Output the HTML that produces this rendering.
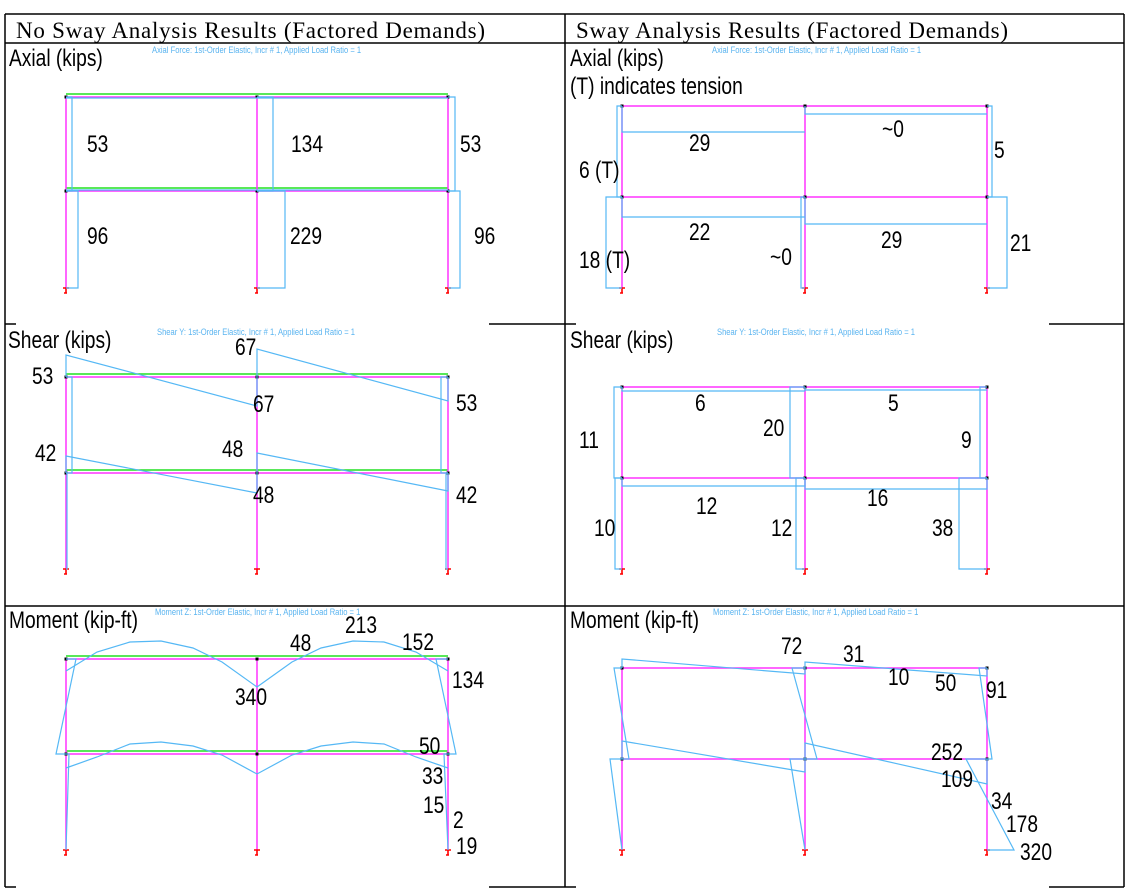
<!DOCTYPE html>
<html><head><meta charset="utf-8">
<style>
html,body{margin:0;padding:0;background:#fff;}
svg{display:block;}
.lbl{font-family:"Liberation Sans",sans-serif;font-size:24px;fill:#000;}
.ttl{font-family:"Liberation Sans",sans-serif;font-size:24px;fill:#000;}
.hdr{font-family:"Liberation Serif",serif;font-size:23px;fill:#000;}
.cap{font-family:"Liberation Sans",sans-serif;font-size:9.5px;fill:#5ab4f0;}
</style></head>
<body>
<svg id="chart" width="1144" height="892" viewBox="0 0 1144 892" xmlns="http://www.w3.org/2000/svg">
<g id="grid" stroke="#000" stroke-width="1.5" fill="none">
<line x1="5" y1="14" x2="1124" y2="14"/>
<line x1="5" y1="43" x2="1124" y2="43"/>
<line x1="5" y1="14" x2="5" y2="887"/>
<line x1="1124" y1="14" x2="1124" y2="887"/>
<line x1="565" y1="14" x2="565" y2="887"/>
<line x1="5" y1="324" x2="16" y2="324"/><line x1="489" y1="324" x2="565" y2="324"/>
<line x1="565" y1="324" x2="576" y2="324"/><line x1="1049" y1="324" x2="1124" y2="324"/>
<line x1="5" y1="606" x2="1124" y2="606"/>
<line x1="5" y1="887" x2="16" y2="887"/><line x1="489" y1="887" x2="576" y2="887"/><line x1="1049" y1="887" x2="1124" y2="887"/>
</g>
<text class="hdr" x="16" y="38" textLength="469">No Sway Analysis Results (Factored Demands)</text>
<text class="hdr" x="576" y="38" textLength="432">Sway Analysis Results (Factored Demands)</text>
<g id="panels"></g>
</svg>
<script>
const NS="http://www.w3.org/2000/svg";
const root=document.getElementById('panels');
const BLUE="#55b8f5";
// label data per panel
const axialNoSwayValues=["53","134","53","96","229","96"];
const axialSwayValues=["29","~0","5","6 (T)","22","29","21","18 (T)","~0"];
const shearNoSwayValues=["53","67","67","53","42","48","48","42"];
const shearSwayValues=["6","5","20","11","9","12","16","10","12","38"];
const momentNoSwayValues=["48","213","152","134","340","50","33","15","2","19"];
const momentSwayValues=["72","31","10","50","91","252","109","34","178","320"];

function el(tag,attrs,parent){const e=document.createElementNS(NS,tag);for(const k in attrs)e.setAttribute(k,attrs[k]);(parent||root).appendChild(e);return e;}
function txt(s,x,y,cls,name,parent){const t=el('text',{x:0,y:0,class:cls,transform:`translate(${x},${y}) scale(0.8,1)`},parent);


t.textContent=s;return t;}
function poly(pts,name,g){const p=el('polyline',{points:pts.map(a=>a.join(',')).join(' '),fill:'none',stroke:BLUE,'stroke-width':1.2},g);

}

function frame(g,cols,yt,ym,yb,green){
  if(green){[yt,ym].forEach(y=>{const l=el('line',{x1:cols[0],y1:y-3,x2:cols[2],y2:y-3,stroke:'#22e022','stroke-width':1.5},g);
  
  });}
  [yt,ym].forEach(y=>{const l=el('line',{x1:cols[0],y1:y,x2:cols[2],y2:y,stroke:'#ff33ff','stroke-width':1.5},g);
  
  });
  cols.forEach(x=>{const l=el('line',{x1:x,y1:yt,x2:x,y2:yb,stroke:'#ff33ff','stroke-width':1.5},g);
  
  
  [yt,ym].forEach(y=>{const d=el('rect',{x:x-1.5,y:y-1.5,width:3,height:3,fill:'#000'},g);
  
  });
  const s=el('path',{d:`M${x-3},${yb} h6 M${x},${yb} v5 M${x-2},${yb+5} h3`,stroke:'#ff0000','stroke-width':1.6,fill:'none'},g);
  
  });
}
function panel(name,title,title2,caption,capx,px,py,cols,yt,ym,yb,green){
  const g=el('g',{});
  
  
  txt(title,px,py,'ttl',name+'-title',g);
  if(title2)txt(title2,px,py+28,'ttl',name+'-subtitle',g);
  txt(caption,capx,py-13,'cap',name+'-caption',g);
  frame(g,cols,yt,ym,yb,green);
  return g;
}
function labels(g,vals,pos,name){vals.forEach((v,i)=>txt(v,pos[i][0],pos[i][1]+8,'lbl',name+'-value-'+i,g));}

// Panel 1: axial no sway
let c=[66,257,448];
let g=panel('axial-no-sway','Axial (kips)',null,'Axial Force:  1st-Order Elastic, Incr # 1, Applied Load Ratio = 1',152,9,66,c,97,191,288,true);
poly([[66,98],[448,98]],'axial-top-beam',g);poly([[66,190],[448,190]],'axial-mid-beam',g);
poly([[66,97],[72,97],[72,191],[66,191]],'axial-col',g);
poly([[257,97],[273,97],[273,191],[257,191]],'axial-col',g);
poly([[448,97],[455,97],[455,191],[448,191]],'axial-col',g);
poly([[66,191],[78,191],[78,288],[66,288]],'axial-col',g);
poly([[257,191],[285,191],[285,288],[257,288]],'axial-col',g);
poly([[448,191],[460,191],[460,288],[448,288]],'axial-col',g);
labels(g,axialNoSwayValues,[[87,144],[291,144],[460,144],[87,236],[290,236],[474,236]],'axial-no-sway');

// Panel 2: axial sway
c=[622,805,987];
g=panel('axial-sway','Axial (kips)','(T) indicates tension','Axial Force:  1st-Order Elastic, Incr # 1, Applied Load Ratio = 1',712,570,66,c,106,197,288,false);
poly([[622,106],[622,132],[805,132]],'axial-beam',g);
poly([[805,106],[805,114],[987,114]],'axial-beam',g);
poly([[622,106],[617,106],[617,197],[622,197]],'axial-col',g);
poly([[987,106],[992,106],[992,197],[987,197]],'axial-col',g);
poly([[622,197],[622,217],[805,217]],'axial-beam',g);
poly([[805,197],[805,224],[987,224]],'axial-beam',g);
poly([[622,197],[606,197],[606,288],[622,288]],'axial-col',g);
poly([[805,197],[801,197],[801,288],[805,288]],'axial-col',g);
poly([[987,197],[1007,197],[1007,288],[987,288]],'axial-col',g);
labels(g,axialSwayValues,[[689,143],[882,129],[994,150],[579,170],[689,232],[881,240],[1010,243],[579,260],[770,257]],'axial-sway');

// Panel 3: shear no sway
c=[66,257,448];
g=panel('shear-no-sway','Shear (kips)',null,'Shear Y:  1st-Order Elastic, Incr # 1, Applied Load Ratio = 1',157,8,348,c,377,473,569,true);
poly([[66,377],[66,355],[257,406],[257,377]],'shear-beam',g);
poly([[257,377],[257,349],[448,401],[448,377]],'shear-beam',g);
poly([[66,473],[66,456],[257,493],[257,473]],'shear-beam',g);
poly([[257,473],[257,453],[448,491],[448,473]],'shear-beam',g);
poly([[66,377],[72,377],[72,473],[66,473]],'shear-col',g);
poly([[448,377],[441,377],[441,473],[448,473]],'shear-col',g);
poly([[66,473],[67,473],[67,569],[66,569]],'shear-col',g);
poly([[448,473],[446,473],[446,569],[448,569]],'shear-col',g);
labels(g,shearNoSwayValues,[[32,376],[235,347],[253,404],[456,403],[35,453],[222,449],[253,495],[456,495]],'shear-no-sway');

// Panel 4: shear sway
c=[622,805,987];
g=panel('shear-sway','Shear (kips)',null,'Shear Y:  1st-Order Elastic, Incr # 1, Applied Load Ratio = 1',717,570,348,c,387,478,569,false);
poly([[622,387],[622,391],[805,391]],'shear-beam',g);
poly([[805,387],[805,390],[987,390]],'shear-beam',g);
poly([[622,387],[614,387],[614,478],[622,478]],'shear-col',g);
poly([[805,387],[790,387],[790,478],[805,478]],'shear-col',g);
poly([[987,387],[980,387],[980,478],[987,478]],'shear-col',g);
poly([[622,478],[622,486],[805,486],[805,478]],'shear-beam',g);
poly([[805,478],[805,489],[987,489],[987,478]],'shear-beam',g);
poly([[622,478],[615,478],[615,569],[622,569]],'shear-col',g);
poly([[805,478],[796,478],[796,569],[805,569]],'shear-col',g);
poly([[987,478],[959,478],[959,569],[987,569]],'shear-col',g);
labels(g,shearSwayValues,[[695,403],[888,403],[763,428],[579,440],[961,440],[696,506],[867,498],[594,528],[771,528],[932,528]],'shear-sway');

// Panel 5: moment no sway
c=[66,257,448];
g=panel('moment-no-sway','Moment (kip-ft)',null,'Moment Z:  1st-Order Elastic, Incr # 1, Applied Load Ratio = 1',155,9,628,c,659,754,850,true);
poly([[66,671],[97,652],[130,642],[161,641],[193,648],[222,662],[257,687],[292,662],[321,648],[353,641],[384,642],[416,652],[448,671]],'moment-top-beam',g);
poly([[66,768],[97,757],[130,744],[161,742],[193,746],[222,755],[257,774],[292,755],[321,746],[353,742],[384,744],[416,757],[448,768]],'moment-mid-beam',g);
poly([[66,659],[76,659],[56,754],[66,754]],'moment-col',g);
poly([[448,659],[436,659],[456,754],[448,754]],'moment-col',g);
poly([[66,754],[69,754],[66,850]],'moment-col',g);
poly([[448,754],[444,754],[448,850]],'moment-col',g);
labels(g,momentNoSwayValues,[[290,643],[345,625],[402,642],[452,680],[235,697],[419,746],[422,776],[423,805],[453,820],[456,846]],'moment-no-sway');

// Panel 6: moment sway
c=[622,805,987];
g=panel('moment-sway','Moment (kip-ft)',null,'Moment Z:  1st-Order Elastic, Incr # 1, Applied Load Ratio = 1',713,570,628,c,668,759,850,false);
poly([[622,668],[622,659],[805,674],[805,668]],'moment-beam',g);
poly([[805,668],[805,662],[987,676],[987,668]],'moment-beam',g);
poly([[622,668],[614,668],[629,759],[622,759]],'moment-col',g);
poly([[805,668],[792,668],[817,759],[805,759]],'moment-col',g);
poly([[987,668],[979,668],[992,759],[987,759]],'moment-col',g);
poly([[622,759],[622,741],[805,772],[805,759]],'moment-beam',g);
poly([[805,759],[805,743],[987,784],[987,759]],'moment-beam',g);
poly([[622,759],[610,759],[622,850]],'moment-col',g);
poly([[805,759],[790,759],[805,850]],'moment-col',g);
poly([[987,759],[966,759],[1014,850],[987,850]],'moment-col',g);
labels(g,momentSwayValues,[[781,646],[843,654],[888,677],[935,683],[986,690],[931,752],[941,779],[991,801],[1006,824],[1020,852]],'moment-sway');
</script>
</body></html>
